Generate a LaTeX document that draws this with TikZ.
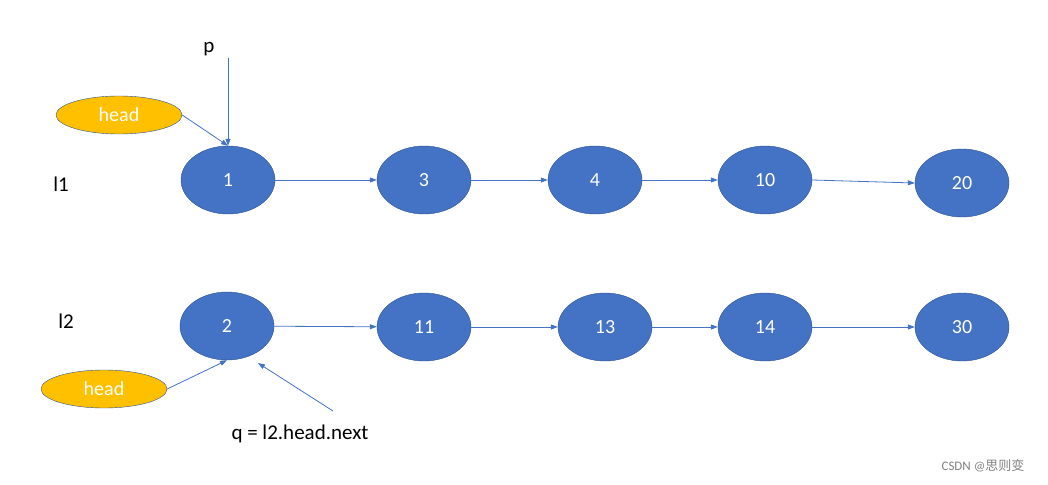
\documentclass[tikz,border=0pt]{standalone}
\usepackage{fontspec}
\setmainfont{Carlito}
\newfontfamily\cjk{Noto Sans CJK SC}
\usetikzlibrary{shapes.geometric,arrows.meta}
\definecolor{nb}{HTML}{4472C4}
\definecolor{nbd}{HTML}{2F528F}
\definecolor{hy}{HTML}{FFC000}
\tikzset{
 nd/.style={ellipse,draw=nbd,fill=nb,minimum width=94pt,minimum height=68pt,inner sep=0pt,text=white,font=\fontsize{20}{20}\selectfont},
 hd/.style={ellipse,draw=nbd,fill=hy,minimum width=126pt,minimum height=38pt,inner sep=0pt,text=white,font=\fontsize{20}{20}\selectfont},
 ar/.style={draw=nb,line width=0.8pt,-{Triangle[length=7pt,width=5pt]}},
 lb/.style={font=\fontsize{21}{21}\selectfont,inner sep=0pt}
}
\begin{document}
\begin{tikzpicture}[x=1pt,y=-1pt]
\useasboundingbox (0,0) rectangle (1048,484);
\node[nd] (n1) at (228,180) {1};
\node[nd] (n3) at (424,180) {3};
\node[nd] (n4) at (595,180) {4};
\node[nd] (n10) at (765,180) {10};
\node[nd] (n20) at (962,183) {20};
\node[nd] (n2) at (227,326) {2};
\node[nd] (n11) at (424,327) {11};
\node[nd] (n13) at (605,327) {13};
\node[nd] (n14) at (765,327) {14};
\node[nd] (n30) at (962,327) {30};
\node[hd] (h1) at (119,115) {head};
\node[hd] (h2) at (104,389) {head};
\node[lb] (p) at (209,49) {p};
\node[lb] (l1) at (61,184) {l1};
\node[lb] (l2) at (66,321) {l2};
\node[lb] (q) at (300,434) {q = l2.head.next};
\node[font=\fontsize{13}{13}\selectfont,text=gray,inner sep=0pt] (w) at (983,466) {CSDN @{\cjk 思则变}};
\coordinate (pt) at (228,58);
\coordinate (qt) at (333,411);
\coordinate (qe) at (258,363);
\draw[ar] (n1) -- (n3);
\draw[ar] (n3) -- (n4);
\draw[ar] (n4) -- (n10);
\draw[ar] (n10.east) -- (n20.west);
\draw[ar] (n2) -- (n11);
\draw[ar] (n11) -- (n13);
\draw[ar] (n13) -- (n14);
\draw[ar] (n14) -- (n30);
\draw[ar] (pt) -- (n1.north);
\draw[ar] (h1.east) -- (n1.north);
\draw[ar] (h2.east) -- (n2.south);
\draw[ar] (qt) -- (qe);
\end{tikzpicture}
\end{document}
